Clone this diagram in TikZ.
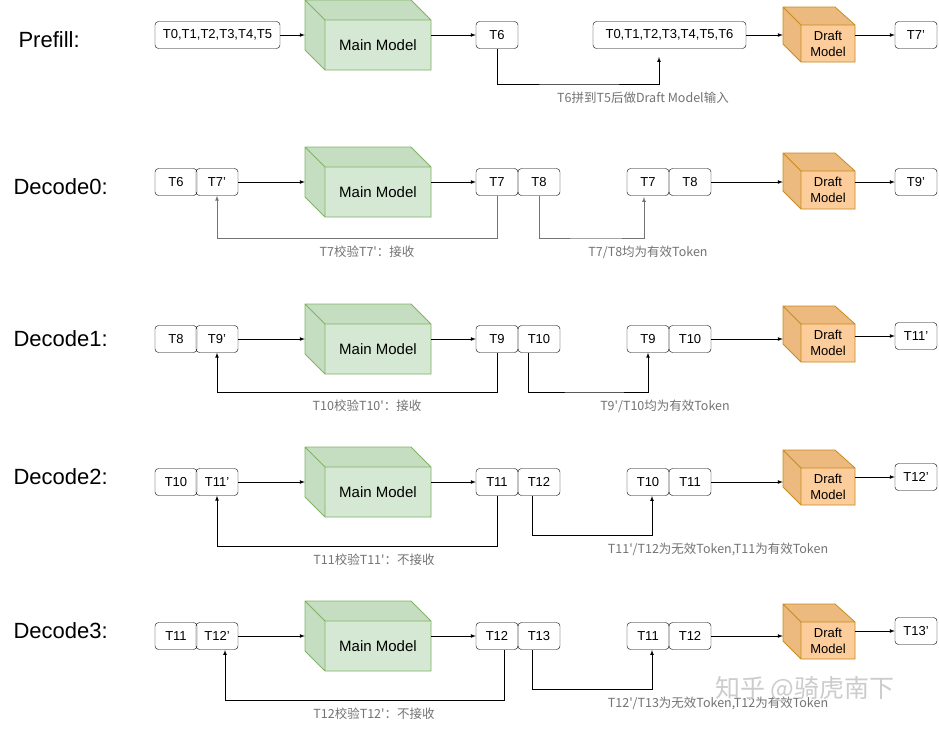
\documentclass[tikz,border=0pt]{standalone}
\usepackage{fontspec}
\setmainfont{Liberation Sans}
\newfontfamily\cjk{Noto Sans CJK SC}
\begin{document}
\begin{tikzpicture}[x=1pt,y=-1pt,
  tok/.style={draw, rounded corners=3.5pt, inner sep=0pt, minimum height=27pt, font=\fontsize{13}{14}\selectfont},
  lbl/.style={font=\fontsize{22}{24}\selectfont, anchor=west},
  note/.style={font=\cjk\fontsize{12.5}{13}\selectfont, text=black!55},
  arr/.style={-latex, line width=0.7pt},
  garr/.style={-latex, line width=0.7pt, draw=black!55}]
\useasboundingbox (0,0) rectangle (939,729);
\fill[white] (0,0) rectangle (939,729);
\newcommand\maincube[3]{%
  \fill[fill={rgb,255:red,197;green,221;blue,193}] (305,#2) -- (411,#2) -- (431,#2+20) -- (431,#3) -- (325,#3) -- (305,#3-20) -- cycle;
  \fill[fill={rgb,255:red,213;green,232;blue,212}] (325,#2+20) rectangle (431,#3);
  \draw[draw={rgb,255:red,130;green,179;blue,102}, line width=0.8pt] (305,#2) -- (411,#2) -- (431,#2+20) -- (431,#3) -- (325,#3) -- (305,#3-20) -- cycle (305,#2) -- (325,#2+20) -- (431,#2+20) (325,#2+20) -- (325,#3);
  \node[inner sep=0pt, minimum width=126pt, minimum height=10pt] (#1) at (368,{(#2+#3)/2}) {};
  \node[font=\fontsize{15}{16}\selectfont] at (378,{(#2+#3)/2+10}) {Main Model};
}
\newcommand\draftcube[3]{%
  \fill[fill={rgb,255:red,236;green,186;blue,126}] (783,#2) -- (835,#2) -- (855,#2+18) -- (855,#3) -- (801,#3) -- (783,#3-18) -- cycle;
  \fill[fill={rgb,255:red,252;green,204;blue,155}] (801,#2+18) rectangle (855,#3);
  \draw[draw={rgb,255:red,200;green,140;blue,30}, line width=0.8pt] (783,#2) -- (835,#2) -- (855,#2+18) -- (855,#3) -- (801,#3) -- (783,#3-18) -- cycle (783,#2) -- (801,#2+18) -- (855,#2+18) (801,#2+18) -- (801,#3);
  \node[inner sep=0pt, minimum width=72pt, minimum height=10pt] (#1) at (819,{(#2+#3)/2}) {};
  \node[font=\fontsize{13}{16}\selectfont, align=center] at (828,{(#2+#3)/2+9}) {Draft\\Model};
}
% ---------- Prefill
\node[lbl] at (15,40) {Prefill:};
\node[tok, minimum width=125pt] (p0) at (217.5,35) {T0,T1,T2,T3,T4,T5};
\maincube{pm}{0}{70}
\node[tok, minimum width=42pt] (p6) at (497,35) {T6};
\node[tok, minimum width=153pt] (pin) at (669.5,35) {T0,T1,T2,T3,T4,T5,T6};
\draftcube{pd}{7}{62}
\node[tok, minimum width=42pt] (pout) at (916,35) {T7'};
\draw[arr] (p0.east) -- (p0.east -| pm.west);
\draw[arr] (pm.east |- p6) -- (p6.west);
\draw[arr] (pin.east) -- (pin.east -| pd.west);
\draw[arr] (pd.east |- pout) -- (pout.west);
\coordinate (pt) at (659,57);
\draw[arr] (p6.south) |- (580,84) -| (pt);
\node[note] at (643,98) {T6拼到T5后做Draft Model输入};
% Decode0
\node[lbl] at (10,187) {Decode0:};
\node[tok, minimum width=42pt] (a1) at (176,182) {T6};
\node[tok, minimum width=42pt] (a2) at (217,182) {T7'};
\maincube{am}{147}{217}
\node[tok, minimum width=42pt] (a3) at (497,182) {T7};
\node[tok, minimum width=42pt] (a4) at (539,182) {T8};
\node[tok, minimum width=42pt] (a5) at (648,182) {T7};
\node[tok, minimum width=42pt] (a6) at (690,182) {T8};
\draftcube{ad}{153}{209}
\node[tok, minimum width=42pt] (a7) at (916,182) {T9'};
\draw[arr] (a2.east) -- (a2.east -| am.west);
\draw[arr] (am.east |- a3) -- (a3.west);
\draw[arr] (a6.east) -- (a6.east -| ad.west);
\draw[arr] (ad.east |- a7) -- (a7.west);
\draw[garr] (a3.south) |- (217,238) -- (a2.south);
\coordinate (at) at (644,197);
\draw[garr] (a4.south) |- (600,238) -| (at);
\node[note] at (367,252) {T7校验T7'：接收};
\node[note] at (648,252) {T7/T8均为有效Token};
% Decode1
\node[lbl] at (10,339) {Decode1:};
\node[tok, minimum width=42pt] (b1) at (176,339) {T8};
\node[tok, minimum width=42pt] (b2) at (217,339) {T9'};
\maincube{bm}{304}{374}
\node[tok, minimum width=42pt] (b3) at (497,339) {T9};
\node[tok, minimum width=42pt] (b4) at (539,339) {T10};
\node[tok, minimum width=42pt] (b5) at (648,339) {T9};
\node[tok, minimum width=42pt] (b6) at (690,339) {T10};
\draftcube{bd}{306}{362}
\node[tok, minimum width=42pt] (b7) at (916,336) {T11'};
\draw[arr] (b2.east) -- (b2.east -| bm.west);
\draw[arr] (bm.east |- b3) -- (b3.west);
\draw[arr] (b6.east) -- (b6.east -| bd.west);
\draw[arr] (bd.east |- b7) -- (b7.west);
\draw[arr] (b3.south) |- (217,392) -- (b2.south);
\coordinate (bt) at (528,353);
\draw[arr] (bt) |- (600,392) -| (b5.south);
\node[note] at (367,406) {T10校验T10'：接收};
\node[note] at (665,406) {T9'/T10均为有效Token};
% Decode2
\node[lbl] at (10,477) {Decode2:};
\node[tok, minimum width=42pt] (c1) at (176,482) {T10};
\node[tok, minimum width=42pt] (c2) at (217,482) {T11'};
\maincube{cm}{447}{517}
\node[tok, minimum width=42pt] (c3) at (497,482) {T11};
\node[tok, minimum width=42pt] (c4) at (539,482) {T12};
\node[tok, minimum width=42pt] (c5) at (648,482) {T10};
\node[tok, minimum width=42pt] (c6) at (690,482) {T11};
\draftcube{cd}{450}{505}
\node[tok, minimum width=42pt] (c7) at (916,477) {T12'};
\draw[arr] (c2.east) -- (c2.east -| cm.west);
\draw[arr] (cm.east |- c3) -- (c3.west);
\draw[arr] (c6.east) -- (c6.east -| cd.west);
\draw[arr] (cd.east |- c7) -- (c7.west);
\draw[arr] (c3.south) |- (217,546) -- (c2.south);
\coordinate (cs) at (532,496);
\coordinate (ct) at (652,496);
\draw[arr] (cs) |- (600,535) -| (ct);
\node[note] at (374,560) {T11校验T11'：不接收};
\node[note] at (718,549) {T11'/T12为无效Token,T11为有效Token};
% Decode3
\node[lbl] at (10,631) {Decode3:};
\node[tok, minimum width=42pt] (d1) at (176,636) {T11};
\node[tok, minimum width=42pt] (d2) at (217,636) {T12'};
\maincube{dm}{601}{671}
\node[tok, minimum width=42pt] (d3) at (497,636) {T12};
\node[tok, minimum width=42pt] (d4) at (539,636) {T13};
\node[tok, minimum width=42pt] (d5) at (648,636) {T11};
\node[tok, minimum width=42pt] (d6) at (690,636) {T12};
\draftcube{dd}{604}{659}
\node[tok, minimum width=42pt] (d7) at (916,631) {T13'};
\draw[arr] (d2.east) -- (d2.east -| dm.west);
\draw[arr] (dm.east |- d3) -- (d3.west);
\draw[arr] (d6.east) -- (d6.east -| dd.west);
\draw[arr] (dd.east |- d7) -- (d7.west);
\coordinate (ds) at (504,650);
\coordinate (dt) at (225,650);
\draw[arr] (ds) |- (300,700) -| (dt);
\coordinate (es) at (532,650);
\coordinate (et) at (652,650);
\draw[arr] (es) |- (600,689) -| (et);
\node[note] at (374,714) {T12校验T12'：不接收};
\node[note] at (718,703) {T12'/T13为无效Token,T12为有效Token};
\node[font=\cjk\fontsize{25}{26}\selectfont, text=black!20] at (805,689) {知乎 @骑虎南下};
\end{tikzpicture}
\end{document}
